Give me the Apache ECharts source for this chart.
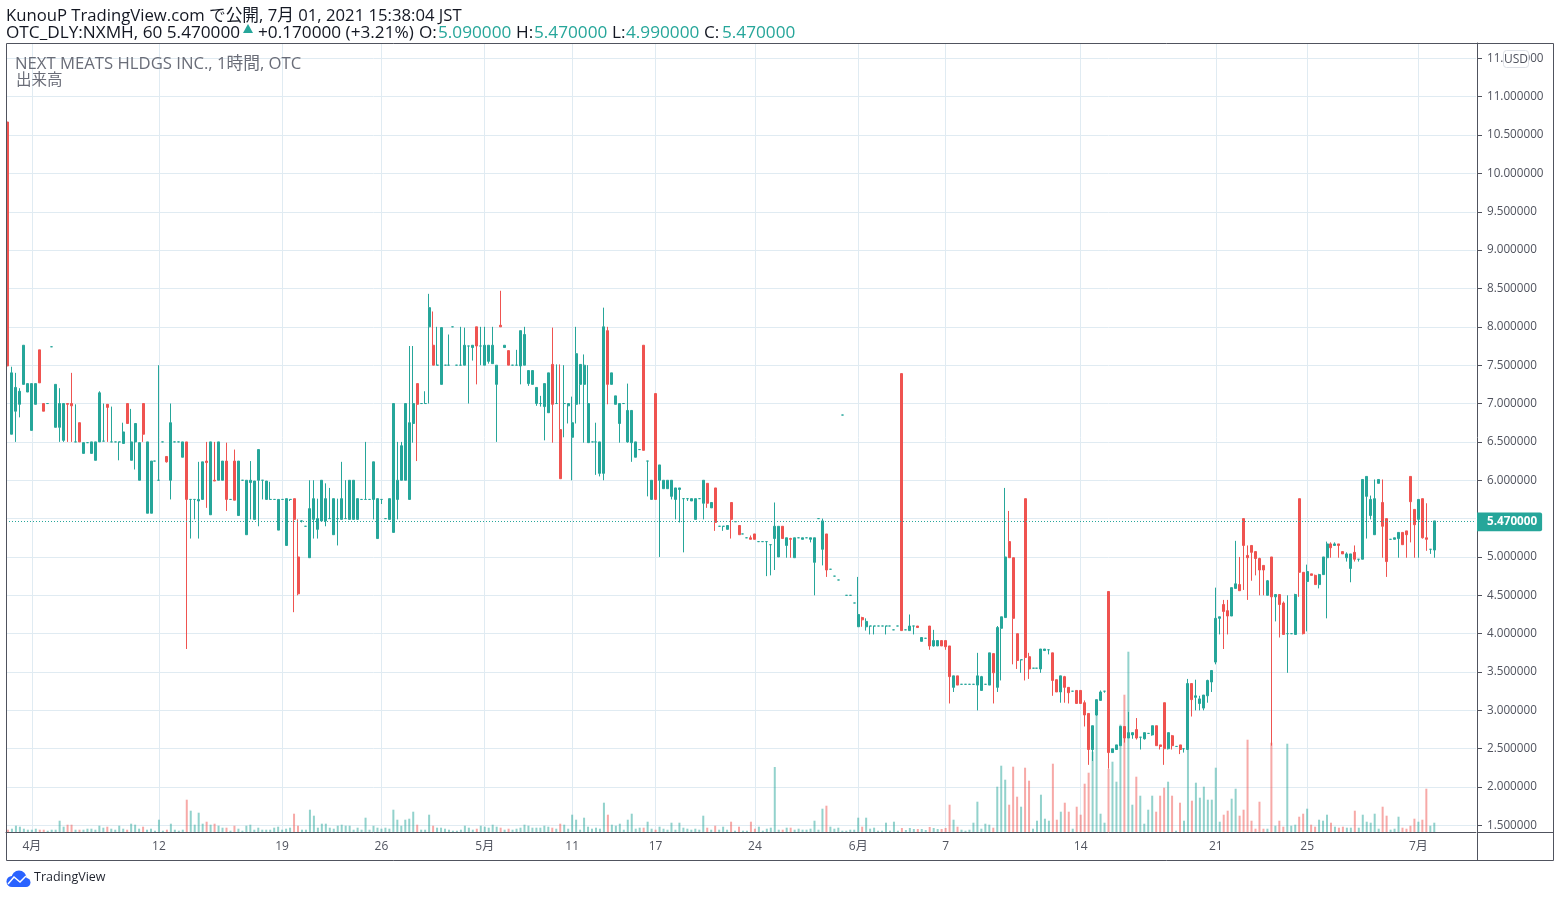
<!DOCTYPE html>
<html>
<head>
<meta charset="utf-8">
<title>NXMH</title>
<script src="https://cdn.jsdelivr.net/npm/echarts@6/dist/echarts.min.js"></script>
<style>
  html, body { margin: 0; padding: 0; background: #fff; }
  #chart { width: 1560px; height: 897px; }
</style>
</head>
<body>
<div id="chart"></div>
<script>
// 1 hour bars
const opens = [
  10.67,6.60,6.90,6.99,7.25,7.15,6.65,6.99,7.70,7.00, 7.00,7.74,6.69,6.69,6.52,7.00,7.00,6.50,6.75,6.35,
  6.49,6.35,6.26,6.50,6.51,6.99,6.50,6.50,6.50,6.48, 7.00,6.26,6.50,6.00,7.00,5.57,5.57,6.25,6.00,6.50,
  6.31,6.00,6.50,6.50,6.30,6.50,5.75,5.75,5.73,5.75, 6.25,5.55,6.00,6.00,6.00,6.25,5.75,6.25,5.54,6.00,
  5.29,5.97,5.49,6.00,6.00,5.75,5.75,5.75,5.35,5.75, 5.15,5.75,5.76,5.00,5.47,5.40,4.99,5.49,5.36,5.47,
  5.47,5.50,5.29,5.50,5.49,5.50,5.49,5.49,5.49,5.75, 5.75,5.75,5.75,5.24,5.75,5.50,5.49,5.32,5.75,6.00,
  6.00,5.75,6.74,7.26,7.00,7.00,8.00,7.76,7.50,7.25, 7.50,7.50,8.00,7.50,7.50,7.50,7.75,7.73,8.00,7.75,
  7.50,7.55,7.52,7.25,8.02,7.73,7.69,7.50,7.50,7.49, 7.50,7.26,7.25,7.00,7.00,6.96,6.88,7.51,7.00,6.66,
  7.00,6.97,6.56,6.99,7.25,7.25,6.49,6.50,6.50,6.09, 6.09,7.95,7.25,6.99,6.74,7.00,6.50,6.49,6.30,6.40,
  7.76,6.25,5.75,7.13,6.00,5.89,5.89,5.79,5.75,5.88, 5.76,5.76,5.73,5.49,5.76,5.70,5.96,5.64,5.90,5.40,
  5.40,5.36,5.71,5.46,5.41,5.30,5.25,5.25,5.30,5.20, 5.20,5.20,5.16,5.24,5.00,5.40,5.15,5.24,4.99,5.25,
  5.23,5.25,5.23,4.93,5.50,5.10,5.30,4.84,4.75,4.70, 6.85,4.50,4.50,4.40,4.09,4.21,4.09,4.10,4.10,4.10,
  4.10,4.10,4.10,4.05,4.10,7.39,4.05,4.04,4.10,4.10, 3.90,3.94,4.10,3.84,3.84,3.91,3.91,3.84,3.30,3.45,
  3.34,3.34,3.34,3.34,3.33,3.26,3.34,3.33,3.74,3.30, 4.07,4.21,5.20,4.99,4.00,3.66,5.76,3.70,3.55,3.55,
  3.54,3.78,3.79,3.75,3.40,3.24,3.44,3.30,3.25,3.26, 3.26,3.10,2.96,2.49,2.94,3.13,3.25,4.55,2.45,2.49,
  2.54,2.79,2.64,2.68,2.75,2.65,2.63,2.70,2.68,2.80, 2.55,3.10,2.50,2.67,2.53,2.55,2.50,2.49,3.35,3.17,
  3.09,3.03,3.19,3.37,3.63,4.20,4.38,4.30,4.23,4.59, 4.64,5.50,5.02,5.15,5.07,4.98,4.89,4.50,5.00,4.48,
  4.51,4.40,4.00,4.00,3.99,5.76,4.80,4.68,4.78,4.76, 4.64,4.77,4.99,5.17,5.15,5.17,5.07,4.99,4.85,5.06,
  4.97,4.97,5.79,5.54,5.29,5.96,5.71,5.50,5.23,5.23, 5.24,5.32,5.34,6.05,5.62,5.49,5.76,5.25,5.10,5.09
];
const closes = [
  7.49,7.40,7.21,7.16,7.76,7.26,7.26,7.26,7.27,6.90, 7.00,7.74,7.25,7.00,7.00,6.99,6.97,6.50,6.50,6.49,
  6.49,6.50,6.50,7.14,6.51,6.95,6.50,6.50,6.50,6.63, 6.74,6.50,6.74,6.49,6.60,6.50,6.25,6.25,6.00,6.50,
  6.24,6.75,6.50,6.50,6.50,5.75,5.75,5.75,5.75,6.24, 6.23,6.50,5.99,6.50,6.25,5.75,5.75,5.74,6.25,6.00,
  6.00,6.00,5.99,6.40,6.00,5.99,5.75,5.75,5.75,5.75, 5.76,5.75,5.49,4.52,5.47,5.40,5.63,5.76,5.50,6.00,
  5.76,5.50,5.76,5.50,5.76,5.50,6.00,6.00,5.76,5.75, 5.75,5.75,6.24,5.76,5.75,5.50,5.76,7.00,6.00,6.45,
  7.00,6.75,7.00,6.99,7.00,7.00,8.25,7.50,7.50,7.99, 7.50,7.50,8.00,7.50,7.50,7.76,7.75,7.76,7.75,7.75,
  7.76,7.76,7.76,7.50,8.00,7.76,7.50,7.50,7.50,7.95, 7.90,7.43,7.43,7.21,7.00,7.26,7.40,6.99,7.00,6.02,
  7.00,7.00,6.75,7.65,7.51,7.50,7.00,6.50,6.50,6.50, 8.00,7.25,7.40,7.10,7.00,7.00,6.91,6.91,6.50,6.40,
  6.39,6.25,6.00,5.75,6.20,6.00,6.00,6.00,5.90,5.90, 5.76,5.76,5.76,5.76,5.76,6.00,5.70,5.71,5.45,5.40,
  5.40,5.41,5.49,5.46,5.29,5.30,5.25,5.23,5.23,5.20, 5.20,5.20,5.16,5.40,5.40,5.24,5.25,5.23,5.25,5.25,
  5.25,5.25,5.25,5.25,5.50,5.47,4.83,4.84,4.75,4.70, 6.85,4.50,4.50,4.40,4.25,4.18,4.16,4.10,4.10,4.10,
  4.10,4.10,4.10,4.05,4.10,4.04,4.05,4.10,4.10,4.08, 3.95,3.94,3.84,3.91,3.91,3.84,3.83,3.44,3.45,3.33,
  3.34,3.34,3.34,3.34,3.45,3.44,3.34,3.75,3.49,4.08, 4.22,5.00,4.99,4.20,3.65,3.66,3.69,3.54,3.55,3.55,
  3.80,3.80,3.79,3.39,3.24,3.45,3.30,3.23,3.25,3.09, 3.09,2.94,2.49,2.80,3.14,3.24,3.25,2.45,2.50,2.55,
  2.79,2.64,2.71,2.71,2.64,2.65,2.71,2.70,2.80,2.54, 2.53,2.50,2.71,2.54,2.53,2.49,2.50,3.35,3.14,3.19,
  3.15,3.20,3.39,3.52,4.20,4.22,4.29,4.23,4.60,4.65, 4.56,5.15,4.99,5.06,4.98,4.83,4.83,4.69,4.48,4.51,
  4.38,3.99,4.00,4.00,4.51,4.80,4.00,4.81,4.76,4.64, 4.77,5.00,5.17,5.12,5.17,5.15,5.04,5.04,5.04,4.97,
  4.97,6.01,6.05,5.75,5.76,6.01,5.40,4.94,5.23,5.25, 5.32,5.16,5.29,5.72,5.42,5.75,5.25,5.23,5.10,5.47
];
const lows = [
  7.49,6.60,6.50,6.82,7.25,7.15,6.65,6.99,7.27,6.90, 7.00,7.74,6.69,6.50,6.50,6.50,6.50,6.50,6.50,6.35,
  6.49,6.35,6.26,6.50,6.51,6.50,6.50,6.50,6.26,6.48, 6.74,6.26,6.14,6.00,6.50,5.57,5.57,6.25,6.00,6.50,
  6.23,5.75,6.50,6.50,6.30,3.80,5.24,5.49,5.24,5.75, 5.64,5.55,5.99,6.00,6.00,5.60,5.75,5.74,5.54,6.00,
  5.29,5.49,5.49,5.40,5.75,5.75,5.75,5.75,5.35,5.75, 5.15,5.73,4.28,4.50,5.45,5.40,4.99,5.24,5.24,5.47,
  5.40,5.50,5.29,5.15,5.49,5.50,5.49,5.49,5.49,5.75, 5.75,5.75,5.49,5.24,5.69,5.50,5.49,5.32,5.49,6.00,
  6.00,5.75,6.49,6.25,7.00,7.00,7.00,7.50,7.50,7.25, 7.50,7.50,8.00,7.50,7.50,7.50,7.00,7.56,7.25,7.50,
  7.50,7.52,7.52,6.50,8.00,7.73,7.50,7.50,7.50,7.25, 7.50,7.23,7.25,6.97,6.96,6.52,6.88,6.49,7.00,6.02,
  6.56,6.74,6.00,6.74,6.99,6.49,6.49,6.50,6.07,6.05, 6.00,6.99,7.25,6.99,6.49,7.00,6.49,6.24,6.30,6.40,
  6.39,5.79,5.75,5.75,5.00,5.89,5.89,5.75,5.49,5.45, 5.06,5.73,5.73,5.49,5.76,5.49,5.64,5.64,5.34,5.40,
  5.34,5.36,5.24,5.46,5.29,5.30,5.25,5.23,5.23,5.20, 5.20,4.75,4.76,4.83,5.00,5.24,4.99,4.99,4.99,5.25,
  5.23,5.25,5.19,4.50,5.50,4.89,4.74,4.84,4.75,4.70, 6.85,4.50,4.50,4.40,4.09,4.09,4.04,3.99,3.99,4.10,
  4.10,3.99,4.10,4.05,4.10,4.04,4.05,4.04,3.99,4.08, 3.90,3.94,3.79,3.83,3.84,3.84,3.79,3.09,3.24,3.33,
  3.34,3.34,3.34,3.34,3.00,3.26,3.34,3.33,3.09,3.24, 3.39,4.21,4.99,3.60,3.54,3.49,3.39,3.41,3.55,3.55,
  3.49,3.78,3.73,3.19,3.24,3.10,3.10,3.09,3.25,3.09, 3.09,2.79,2.29,2.34,2.93,3.13,3.23,2.24,2.45,2.49,
  2.54,2.58,2.64,2.63,2.62,2.49,2.62,2.70,2.67,2.54, 2.49,2.29,2.49,2.49,2.53,2.43,2.45,2.49,2.92,3.00,
  3.00,3.00,3.10,3.24,3.60,3.99,3.80,3.99,4.23,4.59, 4.56,4.57,4.44,4.69,4.76,4.50,4.50,4.50,2.54,4.16,
  3.95,3.99,3.49,4.00,3.99,4.48,3.99,4.03,4.76,4.64, 4.59,4.77,4.20,4.99,5.15,4.99,5.04,4.94,4.67,4.94,
  4.94,4.97,5.24,5.49,5.29,5.96,4.99,4.74,5.23,5.23, 4.99,5.16,4.99,5.19,4.99,4.99,5.24,5.08,5.04,4.99
];
const highs = [
  10.67,7.48,7.40,7.20,7.76,7.26,7.26,7.26,7.70,7.00, 7.00,7.74,7.25,7.20,7.00,7.00,7.40,6.99,6.75,6.49,
  6.49,6.50,6.50,7.16,7.00,6.99,6.96,6.50,6.50,6.75, 7.00,6.93,6.74,6.49,7.00,6.50,6.25,6.25,7.50,6.50,
  6.31,7.00,6.50,6.50,6.50,6.50,5.75,5.75,6.24,6.24, 6.50,6.50,6.50,6.50,6.25,6.49,5.75,6.40,6.25,6.00,
  6.00,6.25,5.99,6.40,6.00,5.99,5.98,5.75,5.75,5.75, 5.76,5.75,5.76,5.49,5.47,5.40,6.00,6.00,5.76,6.00,
  5.96,5.90,5.76,5.76,6.24,6.00,6.00,6.00,5.76,5.75, 6.50,5.75,6.24,5.76,5.75,5.50,5.76,7.00,6.50,6.50,
  7.00,7.75,7.75,7.26,7.00,7.16,8.43,8.20,8.00,7.99, 7.50,7.90,8.00,7.50,8.00,7.99,7.75,7.76,8.00,8.00,
  8.00,7.76,8.00,7.50,8.47,7.76,7.69,7.50,7.70,7.95, 8.00,7.43,7.43,7.21,7.10,7.26,7.40,7.99,7.51,7.51,
  7.50,7.00,7.09,8.00,7.51,7.64,7.50,6.50,6.75,6.50, 8.25,8.00,7.40,7.10,7.00,7.00,7.26,6.91,6.50,6.40,
  7.76,6.25,6.00,7.13,6.20,6.00,6.00,6.00,5.90,5.90, 5.76,5.76,5.76,5.76,5.76,6.00,5.96,5.71,5.90,5.40,
  5.40,5.41,5.71,5.46,5.41,5.30,5.25,5.28,5.30,5.20, 5.20,5.20,5.16,5.71,5.40,5.40,5.25,5.25,5.25,5.25,
  5.25,5.25,5.25,5.25,5.50,5.50,5.30,4.84,4.75,4.70, 6.85,4.50,4.50,4.40,4.74,4.22,4.20,4.10,4.10,4.10,
  4.10,4.10,4.10,4.05,4.10,7.39,4.05,4.25,4.10,4.10, 3.95,3.94,4.10,4.05,3.91,3.91,3.91,3.84,3.45,3.45,
  3.34,3.34,3.34,3.34,3.75,3.45,3.34,3.75,3.74,4.10, 4.22,5.90,5.60,4.99,4.00,3.66,5.76,3.75,3.55,3.55,
  3.80,3.80,3.79,3.75,3.40,3.45,3.45,3.30,3.25,3.26, 3.26,3.13,2.96,2.80,3.14,3.26,3.25,4.55,2.50,2.55,
  2.79,2.79,2.98,2.71,2.90,2.65,2.71,2.70,2.80,2.80, 2.55,3.10,2.71,2.68,2.53,2.55,2.50,3.41,3.35,3.40,
  3.19,3.20,3.40,3.52,4.60,4.22,4.44,4.44,4.60,5.21, 5.00,5.50,5.15,5.15,5.07,4.99,4.89,4.70,5.00,4.51,
  4.51,4.42,4.50,4.00,4.52,5.76,4.80,4.90,4.78,4.77, 4.78,5.00,5.20,5.19,5.19,5.17,5.07,5.06,5.04,5.15,
  4.97,6.01,6.05,5.80,6.01,6.01,6.01,5.50,5.23,5.25, 5.32,5.32,5.34,6.05,5.62,5.75,5.76,5.70,5.10,5.47
];
// volume scale is not printed on the chart, relative units
const volumes = [
  2.3,3.3,6.3,5.3,3.3,2.3,2.3,3.3,2.3,2.3, 1.3,2.3,2.3,11.3,5.3,7.3,7.3,2.3,2.3,2.3,
  3.3,3.3,2.3,6.3,4.3,5.3,3.3,2.3,6.3,3.3, 2.3,8.3,7.3,3.3,5.3,2.3,3.3,1.3,12.3,1.3,
  2.3,8.3,2.3,1.3,2.3,32.3,21.3,7.3,19.3,8.3, 10.3,7.3,8.3,6.3,4.3,4.3,1.3,6.3,3.3,1.3,
  6.3,7.3,2.3,4.3,2.3,2.3,2.3,4.3,5.3,2.3, 3.3,4.3,18.3,6.3,2.3,2.3,22.3,16.3,4.3,8.3,
  8.3,4.3,3.3,6.3,7.3,6.3,6.3,2.3,4.3,2.3, 14.3,2.3,6.3,4.3,3.3,4.3,3.3,22.3,12.3,6.3,
  12.3,13.3,20.3,7.3,2.3,2.3,17.3,6.3,4.3,4.3, 3.3,2.3,1.3,1.3,2.3,6.3,4.3,2.3,3.3,6.3,
  5.3,4.3,7.3,5.3,4.3,2.3,3.3,2.3,3.3,4.3, 7.3,6.3,4.3,4.3,4.3,6.3,5.3,4.3,3.3,8.3,
  7.3,3.3,17.3,12.3,2.3,14.3,5.3,3.3,4.3,3.3, 29.3,17.3,7.3,6.3,8.3,2.3,12.3,18.3,3.3,4.3,
  4.3,10.3,3.3,2.3,5.3,3.3,2.3,9.3,2.3,9.3, 4.3,3.3,2.3,3.3,2.3,16.3,4.3,2.3,6.3,2.3,
  5.3,2.3,10.3,1.3,5.3,1.3,1.3,10.3,3.3,5.3, 1.3,3.3,4.3,65,2.3,2.3,4.3,4.3,2.3,3.3,
  2.3,2.3,3.3,11.3,2.3,23.3,26.3,5.3,3.3,4.3, 1.3,1.3,2.3,2.3,14.3,5.3,14.3,3.3,4.3,1.3,
  1.3,9.3,1.3,10.3,1.3,4,2,4,3,3, 3,2,5,4,3,3,4,27.3,12.3,5.3,
  2.3,1.3,2.3,9.3,30.3,3.3,8.3,7.3,4.3,45.3, 66.3,52.3,27.3,65.3,35.3,25.3,64.3,51.3,3.3,11.3,
  37.3,13.3,11.3,68.3,12.3,20.3,29.3,20.3,3.3,25.3, 17.3,48.3,59.3,80.3,117,18.3,9.3,63,70.3,50.3,
  107.3,137.3,180.3,27.3,55.3,36.3,8.3,22.3,36.3,20.3, 36.3,44.3,50.3,36.3,1.3,29.3,11.3,82,31.3,49.3,
  34.3,45.3,32.3,32.3,64.3,10.3,17.3,21.3,33.3,43.3, 16.3,22.3,92.3,11.3,3.3,30.3,3.3,3.3,89.3,6.3,
  11.3,5.3,88.3,6.3,7.3,15.3,18.3,23.3,7.3,5.3, 12.3,11.3,17.3,9.3,5.3,4.3,5.3,4.3,4.3,21.3,
  4.3,17.3,10.3,9.3,18.3,3.3,25.3,16.3,2.3,3.3, 15.3,4.3,3.3,6.3,13.3,10.3,12.3,43.3,6.3,9.3
];
const tickIdx = [6, 38, 69, 94, 120, 142, 163, 188, 214, 236, 270, 304, 327, 355];
const tickLabels = ['4月', '12', '19', '26', '5月', '11', '17', '24', '6月', '7', '14', '21', '25', '7月'];
const priceTicks = [1.5, 2, 2.5, 3, 3.5, 4, 4.5, 5, 5.5, 6, 6.5, 7, 7.5, 8, 8.5, 9, 9.5, 10, 10.5, 11, 11.5];
const lastPrice = 5.47;

const UP = '#26a69a';
const DOWN = '#ef5350';
const GRID = '#e0ebf2';
const LINE = '#50535e';
const INK = '#131722';
const FONT = '"Open Sans", "Noto Sans CJK JP", sans-serif';
const SLOTS = 370; // bars plus the empty space on the right

const categories = [];
for (let i = 0; i < SLOTS; i++) {
  const t = tickIdx.indexOf(i);
  categories.push(t >= 0 ? tickLabels[t] : '');
}

const showTick = i => tickIdx.indexOf(i) >= 0;

// header pieces of the second line
const quote = (text, x, fill) => ({
  type: 'text', z: 30, x: x, y: 24.5, style: { text: text, fill: fill, font: '17.2px ' + FONT }
});

const chart = echarts.init(document.getElementById('chart'), null, { renderer: 'canvas' });

chart.setOption({
  animation: false,
  backgroundColor: '#fff',
  grid: { left: 6, top: 43, width: 1470, height: 789, containLabel: false },
  xAxis: {
    type: 'category',
    data: categories,
    boundaryGap: true,
    axisLine: { onZero: false, lineStyle: { color: LINE } },
    axisTick: { alignWithLabel: true, interval: showTick, length: 5, lineStyle: { color: LINE } },
    axisLabel: { interval: showTick, color: LINE, fontSize: 12, fontFamily: FONT, margin: 9, hideOverlap: false },
    splitLine: { show: true, alignWithLabel: true, interval: showTick, lineStyle: { color: GRID } }
  },
  yAxis: [{
    type: 'value',
    position: 'right',
    offset: 1,
    min: 1.4146,
    max: 11.7,
    axisLine: { show: true, lineStyle: { color: LINE } },
    axisTick: { show: true, length: 5, lineStyle: { color: LINE }, customValues: priceTicks },
    axisLabel: {
      color: LINE, fontSize: 11.7, fontFamily: FONT, margin: 10, customValues: priceTicks,
      padding: [4, 0, 0, 0],
      formatter: v => v.toFixed(6)
    },
    splitLine: { show: true, lineStyle: { color: GRID } }
  }, {
    type: 'value',
    show: false,
    min: 0,
    max: 789,
    splitLine: { show: false }
  }],
  series: [{
    type: 'bar',
    yAxisIndex: 1,
    barWidth: 2,
    z: 1,
    silent: true,
    data: volumes.map((v, i) => ({
      value: v,
      itemStyle: { color: closes[i] < opens[i] ? 'rgba(239,83,80,0.5)' : 'rgba(38,166,154,0.5)' }
    }))
  }, {
    type: 'candlestick',
    yAxisIndex: 0,
    barWidth: 2.5,
    z: 2,
    silent: true,
    itemStyle: {
      color: UP, color0: DOWN, borderColor: UP, borderColor0: DOWN, borderColorDoji: UP, borderWidth: 1
    },
    data: opens.map((o, i) => [o, closes[i], lows[i], highs[i]]),
    markLine: {
      silent: true,
      symbol: 'none',
      animation: false,
      lineStyle: { color: UP, type: [1, 2], width: 1 },
      label: {
        position: 'end', distance: 0, offset: [1, 1], formatter: () => lastPrice.toFixed(6),
        color: '#fff', backgroundColor: UP, fontSize: 11.7, fontWeight: 'bold', fontFamily: FONT,
        padding: [4, 5, 3, 10], borderRadius: [0, 2, 2, 0]
      },
      data: [{ yAxis: lastPrice }]
    }
  }],
  graphic: [
    // frame around the panes
    { type: 'rect', z: 20, shape: { x: 6.5, y: 43.5, width: 1547, height: 817 }, style: { fill: null, stroke: LINE, lineWidth: 1 } },
    { type: 'line', z: 20, shape: { x1: 1477.5, y1: 832, x2: 1477.5, y2: 860 }, style: { stroke: LINE, lineWidth: 1 } },
    { type: 'line', z: 20, shape: { x1: 1477, y1: 832.5, x2: 1553, y2: 832.5 }, style: { stroke: LINE, lineWidth: 1 } },
    // snapshot header
    { type: 'text', z: 30, x: 6, y: 7.5, style: { text: 'KunouP TradingView.com で公開, 7月 01, 2021 15:38:04 JST', fill: INK, font: '16.7px ' + FONT } },
    quote('OTC_DLY:NXMH, 60 5.470000', 6, INK),
    { type: 'polygon', z: 30, shape: { points: [[248, 24], [253, 33], [243, 33]] }, style: { fill: UP } },
    quote('+0.170000 (+3.21%)', 258, INK),
    quote('O:', 419, INK), quote('5.090000', 438, UP),
    quote('H:', 516, INK), quote('5.470000', 534, UP),
    quote('L:', 612, INK), quote('4.990000', 626, UP),
    quote('C:', 704, INK), quote('5.470000', 722, UP),
    // pane legend
    { type: 'text', z: 30, x: 15, y: 55.5, style: { text: 'NEXT MEATS HLDGS INC., 1時間, OTC', fill: '#6a6d78', font: '16.7px ' + FONT } },
    { type: 'text', z: 30, x: 16, y: 73, style: { text: '出来高', fill: '#6a6d78', font: '15.5px ' + FONT } },
    // currency badge on the price axis
    { type: 'rect', z: 30, shape: { x: 1503.5, y: 50.5, width: 25, height: 17, r: 3 }, style: { fill: '#fff', stroke: '#dde0e6', lineWidth: 1 } },
    { type: 'text', z: 31, x: 1516, y: 59.5, style: { text: 'USD', fill: LINE, font: '12px ' + FONT, align: 'center', verticalAlign: 'middle' } },
    // logo
    { type: 'circle', z: 30, shape: { cx: 12, cy: 881.5, r: 5.5 }, style: { fill: '#2962ff' } },
    { type: 'circle', z: 30, shape: { cx: 19, cy: 878, r: 7.5 }, style: { fill: '#2962ff' } },
    { type: 'circle', z: 30, shape: { cx: 26, cy: 882.5, r: 4.5 }, style: { fill: '#2962ff' } },
    { type: 'rect', z: 30, shape: { x: 12, y: 881, width: 14, height: 6 }, style: { fill: '#2962ff' } },
    { type: 'polyline', z: 31, shape: { points: [[8, 884], [14, 877], [20, 882], [26, 876]] }, style: { stroke: '#fff', fill: null, lineWidth: 1.5 } },
    { type: 'text', z: 30, x: 34, y: 871, style: { text: 'TradingView', fill: '#1e222d', font: '12.5px ' + FONT } }
  ]
});
</script>
</body>
</html>
